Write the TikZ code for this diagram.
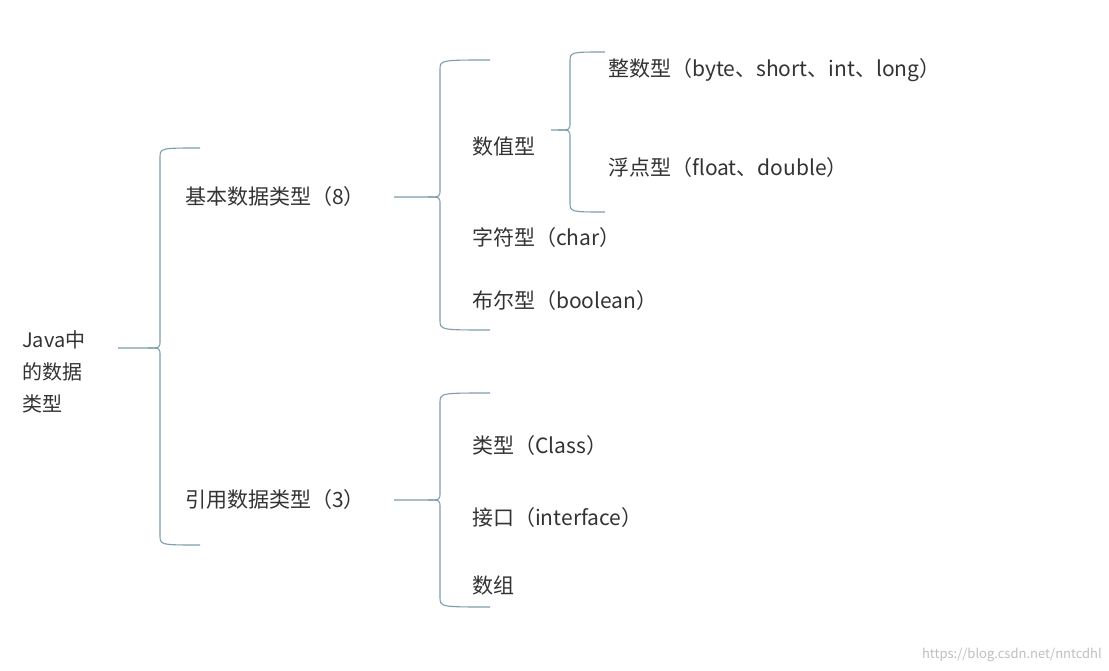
\documentclass[tikz,border=0pt]{standalone}
\usepackage{fontspec}
\setmainfont{Noto Sans CJK SC}
\definecolor{bracecol}{HTML}{7F9DAD}
\definecolor{txtcol}{HTML}{333333}
\tikzset{
  item/.style={anchor=west, inner sep=0pt, text=txtcol, font=\fontsize{21}{24}\selectfont},
  bracepath/.style={draw=bracecol, line width=1.1pt}
}
% \brcl{stem start}{x}{top}{mid}{bottom}{end x}
\newcommand{\brcl}[6]{%
  \draw[bracepath] (#6,#3) .. controls (#2,#3) .. (#2,#3+10) -- (#2,#4-8)
    .. controls (#2,#4) .. (#2-12,#4) -- (#1);
  \draw[bracepath] (#2-12,#4) .. controls (#2,#4) .. (#2,#4+8) -- (#2,#5-10)
    .. controls (#2,#5) .. (#6,#5);
}
\begin{document}
\begin{tikzpicture}[x=1pt,y=-1pt]
  \useasboundingbox[fill=white] (0,0) rectangle (1109,671);
  \node[item, align=left, font=\fontsize{20}{32}\selectfont] (root) at (22,372) {Java中\\的数据\\类型};
  \node[item] (basic) at (185,197) {基本数据类型（8）};
  \node[item] (refer) at (185,500) {引用数据类型（3）};
  \node[item] (num) at (472,147) {数值型};
  \node[item] (int) at (608,70) {整数型（byte、short、int、long）};
  \node[item] (float) at (608,168) {浮点型（float、double）};
  \node[item] (char) at (472,238) {字符型（char）};
  \node[item] (bool) at (472,301) {布尔型（boolean）};
  \node[item] (class) at (472,446) {类型（Class）};
  \node[item] (iface) at (472,518) {接口（interface）};
  \node[item] (arr) at (472,586) {数组};
  \node[anchor=east, inner sep=0pt, text=black!25, font=\fontsize{13}{15}\selectfont] (mark) at (1102,655) {https://blog.csdn.net/nntcdhl};
  % stem starts
  \coordinate (rootS) at (118,348);
  \coordinate (basicS) at (394,197);
  \coordinate (numS) at (551,130);
  \coordinate (referS) at (394,500);
  % braces
  \brcl{rootS}{160}{148}{348}{545}{200}
  \brcl{basicS}{440}{60}{197}{330}{490}
  \brcl{numS}{570}{52}{130}{212}{605}
  \brcl{referS}{440}{393}{500}{607}{490}
\end{tikzpicture}
\end{document}
